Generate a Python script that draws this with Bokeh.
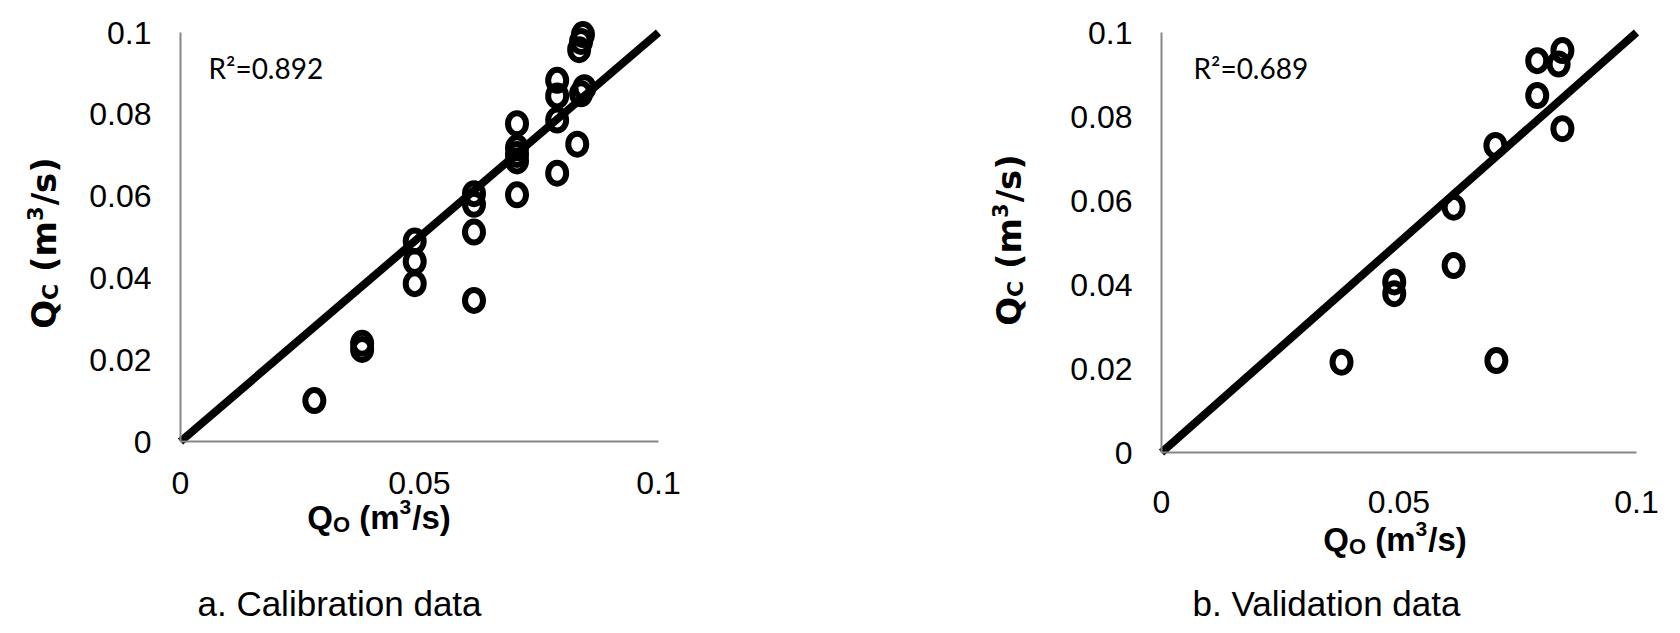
import math
from bokeh.plotting import figure
from bokeh.layouts import row
from bokeh.models import Range1d, FixedTicker, Label
from bokeh.embed import file_html
from bokeh.resources import INLINE

cal_observed = [0.028, 0.038, 0.038, 0.049, 0.049, 0.049,
                0.0614, 0.0614, 0.0614, 0.0614,
                0.0704, 0.0704, 0.0704, 0.0704, 0.0704,
                0.0788, 0.0788, 0.0788, 0.0788,
                0.0842, 0.0838, 0.0834, 0.0830, 0.0845, 0.0838]
cal_computed = [0.010, 0.024, 0.0225, 0.049, 0.044, 0.0386,
                0.0606, 0.058, 0.0512, 0.0345,
                0.0777, 0.0718, 0.0702, 0.0686, 0.0603,
                0.0883, 0.0845, 0.0786, 0.0656,
                0.0995, 0.0978, 0.0958, 0.0727, 0.0865, 0.0850]

val_observed = [0.0379, 0.049, 0.049, 0.0615, 0.0615, 0.0705, 0.0703,
                0.0791, 0.0791, 0.0836, 0.0844, 0.0844]
val_computed = [0.0215, 0.0406, 0.0378, 0.0584, 0.0445, 0.0219, 0.0731,
                0.0933, 0.085, 0.0925, 0.0957, 0.0771]

one_to_one = [0, 0.1]  # droite 1:1

x_ticks = [0, 0.05, 0.1]
x_tick_labels = ["0", "0.05", "0.1"]
y_ticks = [0, 0.02, 0.04, 0.06, 0.08, 0.1]
y_tick_labels = ["0", "0.02", "0.04", "0.06", "0.08", "0.1"]

r2_labels = ["R\u00b2=0.892", "R\u00b2=0.689"]
captions = ["a. Calibration data", "b. Validation data"]

# titres d'axes en morceaux : (texte, taille px, décalage vertical)
x_title = [("Q", 33, 0), ("O", 22, -7), (" (m", 33, 0), ("3", 21, 10), ("/s)", 33, 0)]
y_title = [("Q", 34, 0), ("C", 22, -7), (" (m", 34, 0), ("3", 21, 9), ("/s)", 34, 0)]

# largeurs des glyphes gras (em)
ARIAL_BOLD_W = {"Q": 0.778, "O": 0.778, "C": 0.722, " ": 0.278, "(": 0.333, "m": 0.889,
                "3": 0.556, "/": 0.278, "s": 0.556, ")": 0.333}
DEJAVU_BOLD_W = {"Q": 0.850, "C": 0.734, " ": 0.348, "(": 0.457, "m": 1.042,
                 "3": 0.696, "/": 0.365, "s": 0.595, ")": 0.457}

AXIS_GREY = "#868686"
FIG_H = 625


def piece_width(t, size, widths):
    return sum(widths[c] for c in t) * size


def axis_title(p, pieces, cx, cy, rotated, font, widths, cap_ratio):
    # cx, cy en coordonnées écran (relatives au cadre, y vers le haut)
    total = sum(piece_width(t, s, widths) for t, s, _ in pieces)
    cap = cap_ratio * pieces[0][1]
    pos = -total / 2
    for t, s, shift in pieces:
        # les espaces de tête sont perdus en SVG : on avance à la main
        lead = len(t) - len(t.lstrip())
        pos += piece_width(" " * lead, s, widths)
        t = t.lstrip()
        if rotated:
            x, y, ang = cx + cap / 2 - shift, cy + pos, math.pi / 2
        else:
            x, y, ang = cx + pos, cy - cap / 2 + shift, 0
        p.add_layout(Label(x=x, y=y, x_units="screen", y_units="screen", text=t, angle=ang,
                           text_font=font, text_font_size=f"{s}px",
                           text_font_style="bold", text_color="black",
                           text_align="left", text_baseline="alphabetic"))
        pos += piece_width(t, s, widths) + (1 if t == "3" else 0)


def make_panel(obs, comp, r2, caption, g):
    # le cadre couvre toute la figure ; les axes sont fixés en 0
    sx, sy, left, w = g["sx"], g["sy"], g["fig_left"], g["width"]
    p = figure(width=w, height=FIG_H,
               x_range=Range1d((left - g["x0"]) / sx, (left + w - g["x0"]) / sx),
               y_range=Range1d((g["y0"] - FIG_H) / sy, g["y0"] / sy),
               min_border=0, toolbar_location=None, output_backend="svg",
               background_fill_color="white")
    p.outline_line_color = None
    p.grid.visible = False

    for ax in (p.xaxis[0], p.yaxis[0]):
        ax.fixed_location = 0
        ax.bounds = (0, 0.1)
        ax.axis_line_color = AXIS_GREY
        ax.axis_line_width = 2
        ax.major_tick_line_color = None
        ax.minor_tick_line_color = None
        ax.major_label_text_font = "Liberation Sans"
        ax.major_label_text_font_size = "32px"
        ax.major_label_text_color = "black"
    p.xaxis.ticker = FixedTicker(ticks=x_ticks)
    p.xaxis.major_label_overrides = dict(zip(x_ticks, x_tick_labels))
    p.xaxis.major_label_standoff = g["x_standoff"]
    p.yaxis.ticker = FixedTicker(ticks=y_ticks)
    p.yaxis.major_label_standoff = 23
    p.yaxis.major_label_overrides = dict(zip(y_ticks, y_tick_labels))

    p.line(one_to_one, one_to_one, line_width=8, line_color="black")
    p.ellipse(obs, comp, width=18, height=21, width_units="screen", height_units="screen",
              fill_color=None, line_color="black", line_width=6)

    def scr(px, py):
        return px - left, FIG_H - py

    rx, ry = scr(*g["r2"])
    p.add_layout(Label(x=rx, y=ry, x_units="screen", y_units="screen", text=r2,
                       text_font="Lato", text_font_size="28px", text_color="black",
                       text_align="left", text_baseline="middle"))
    cx, cy = scr(*g["caption"])
    p.add_layout(Label(x=cx, y=cy, x_units="screen", y_units="screen", text=caption,
                       text_font="Liberation Sans", text_font_size="35px", text_color="black",
                       text_align="center", text_baseline="middle"))
    axis_title(p, x_title, *scr(*g["xtitle"]), rotated=False,
               font="Liberation Sans", widths=ARIAL_BOLD_W, cap_ratio=0.716)
    axis_title(p, y_title, *scr(*g["ytitle"]), rotated=True,
               font="DejaVu Sans", widths=DEJAVU_BOLD_W, cap_ratio=0.729)
    return p


# positions en px de page : origine des axes, px par unité, textes
left_geom = dict(x0=180, y0=441, sx=4780, sy=4090, fig_left=0, width=830, x_standoff=24,
                 r2=(208, 67), caption=(339, 603), xtitle=(378, 505), ytitle=(31, 243))
right_geom = dict(x0=1161, y0=452, sx=4750, sy=4200, fig_left=830, width=834, x_standoff=32,
                  r2=(1193, 67), caption=(1326, 603), xtitle=(1394, 527), ytitle=(996, 240))

p_cal = make_panel(cal_observed, cal_computed, r2_labels[0], captions[0], left_geom)
p_val = make_panel(val_observed, val_computed, r2_labels[1], captions[1], right_geom)

layout = row(p_cal, p_val)
open("out.html", "w").write(file_html(layout, INLINE))
